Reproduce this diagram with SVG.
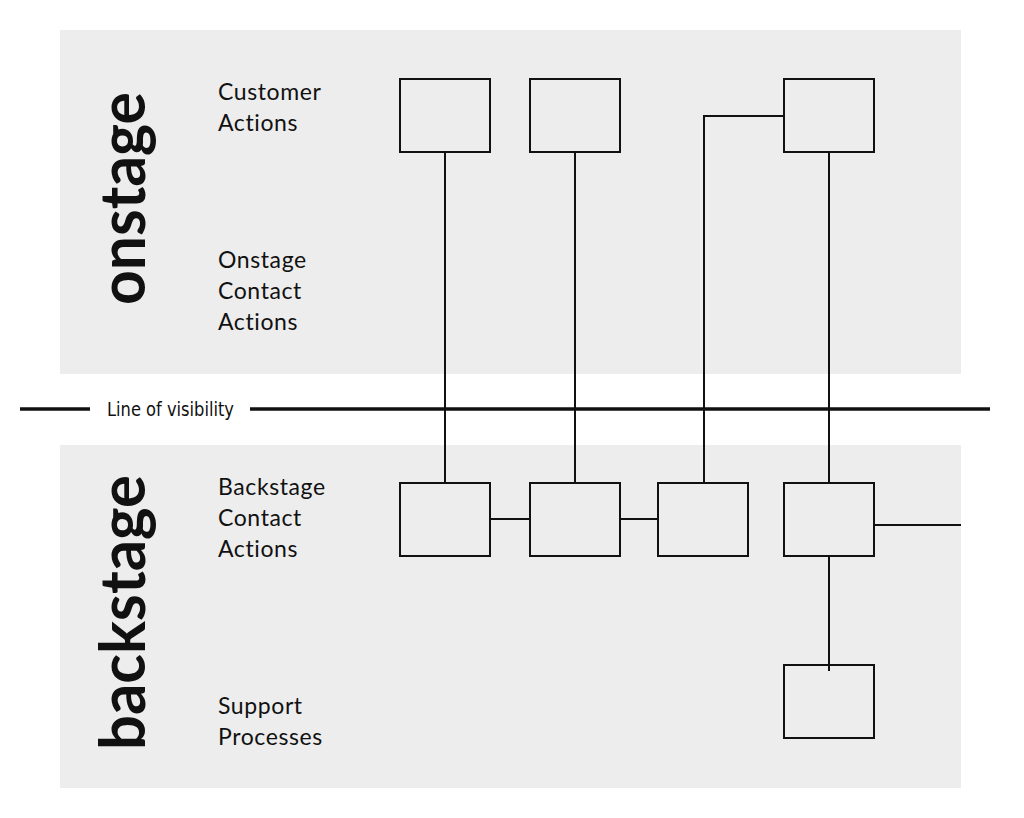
<svg xmlns="http://www.w3.org/2000/svg" width="1024" height="818" viewBox="0 0 1024 818">
<style>
.panel{fill:#ededed}
.box{fill:none;stroke:#111;stroke-width:2}
.c{fill:none;stroke:#111;stroke-width:2}
.lbl{font-family:Lato,"Open Sans",sans-serif;font-size:23px;letter-spacing:0.6px;fill:#111}
.side{font-family:Lato,"Open Sans",sans-serif;font-size:64px;font-weight:bold;fill:#111}
</style>
<rect width="1024" height="818" fill="#fff"/>
<rect class="panel" x="60" y="30" width="901" height="344"/>
<rect class="panel" x="60" y="445" width="901" height="343"/>
<text class="side" transform="translate(145,305) rotate(-90)" textLength="213" lengthAdjust="spacingAndGlyphs">onstage</text>
<text class="side" transform="translate(145,750) rotate(-90)" textLength="275" lengthAdjust="spacingAndGlyphs">backstage</text>
<g id="labels">
<text class="lbl" x="218" y="100">Customer</text><text class="lbl" x="218" y="131">Actions</text>
<text class="lbl" x="218" y="268">Onstage</text><text class="lbl" x="218" y="299">Contact</text><text class="lbl" x="218" y="330">Actions</text>
<text class="lbl" x="218" y="495">Backstage</text><text class="lbl" x="218" y="526">Contact</text><text class="lbl" x="218" y="557">Actions</text>
<text class="lbl" x="218" y="714">Support</text><text class="lbl" x="218" y="745">Processes</text>
</g>
<g id="visibility">
<line x1="20" y1="409" x2="90" y2="409" stroke="#111" stroke-width="3.5"/>
<line x1="250" y1="409" x2="990" y2="409" stroke="#111" stroke-width="3.5"/>
<text x="107" y="416" font-family="'DejaVu Sans Condensed','Liberation Sans Narrow',sans-serif" font-size="19" fill="#111" textLength="127" lengthAdjust="spacingAndGlyphs">Line of visibility</text>
</g>
<g id="connectors">
<line class="c" x1="445" y1="152" x2="445" y2="483"/>
<line class="c" x1="575" y1="152" x2="575" y2="483"/>
<polyline class="c" points="784,116 704,116 704,483"/>
<line class="c" x1="829" y1="152" x2="829" y2="483"/>
<line class="c" x1="490" y1="519" x2="530" y2="519"/>
<line class="c" x1="620" y1="519" x2="658" y2="519"/>
<line class="c" x1="874" y1="525" x2="961" y2="525"/>
<line class="c" x1="829" y1="556" x2="829" y2="671"/>
</g>
<g id="n1"><rect class="box" x="400" y="79" width="90" height="73"/></g>
<g id="n2"><rect class="box" x="530" y="79" width="90" height="73"/></g>
<g id="n3"><rect class="box" x="784" y="79" width="90" height="73"/></g>
<g id="n4"><rect class="box" x="400" y="483" width="90" height="73"/></g>
<g id="n5"><rect class="box" x="530" y="483" width="90" height="73"/></g>
<g id="n6"><rect class="box" x="658" y="483" width="90" height="73"/></g>
<g id="n7"><rect class="box" x="784" y="483" width="90" height="73"/></g>
<g id="n8"><rect class="box" x="784" y="665" width="90" height="73"/></g>
</svg>
